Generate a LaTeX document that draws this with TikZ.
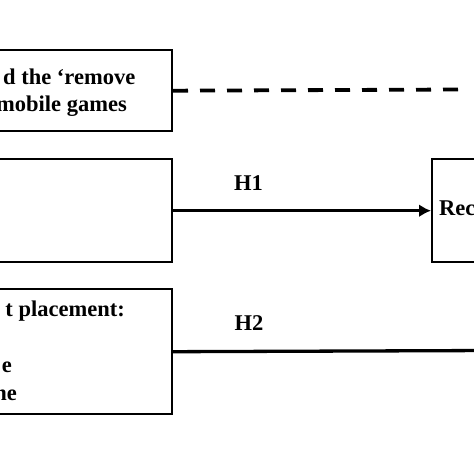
\documentclass[tikz,border=0pt]{standalone}
\usepackage{fontspec}
\setmainfont{Liberation Serif}
\usetikzlibrary{arrows.meta}
\begin{document}
\begin{tikzpicture}[x=1pt,y=-1pt,
  boxshape/.style={draw=black,line width=2.4pt,rectangle,inner sep=0pt},
  txt/.style={inner sep=0pt,font=\fontsize{22.5}{27}\selectfont\bfseries},
  solidlink/.style={draw=black,line width=3.3pt},
  dashlink/.style={draw=black,line width=3.8pt,dash pattern=on 15pt off 12pt},
  arrowtip/.style={-{Latex[length=12pt,width=13pt]}}]
\useasboundingbox (0,0) rectangle (474,474);
\clip (0,0) rectangle (474,474);
\fill[white] (0,0) rectangle (474,474);
% boxes
\node[boxshape,minimum width=273pt,minimum height=81pt,anchor=north east] (b1) at (173,49) {};
\node[boxshape,minimum width=273pt,minimum height=103pt,anchor=north east] (b2) at (173,158) {};
\node[boxshape,minimum width=273pt,minimum height=125pt,anchor=north east] (b3) at (173,288) {};
\node[boxshape,minimum width=200pt,minimum height=103pt,anchor=north west] (rec) at (431,158) {};
% texts
\node[txt,anchor=base west] (t1a) at (3,84) {d the ‘remove};
\node[txt,anchor=base east] (t1b) at (127,111) {mobile games};
\node[txt,anchor=base east] (t3a) at (125,316) {t placement:};
\node[txt,anchor=base east] (t3b) at (12,372) {e};
\node[txt,anchor=base east] (t3c) at (17,400) {ne};
\node[txt,anchor=base west] (trec) at (439,215) {Rec};
\node[txt,anchor=base] (h1) at (248.5,190) {H1};
\node[txt,anchor=base] (h2) at (249,330) {H2};
% connectors
\coordinate (dashend) at (463,89.5);
\coordinate (h2end) at (490,350.5);
\draw[dashlink] (b1.east) -- (dashend);
\draw[solidlink,arrowtip] (b2.east) -- (b2.east -| rec.west);
\draw[solidlink] (b3.east) -- (h2end);
\end{tikzpicture}
\end{document}
